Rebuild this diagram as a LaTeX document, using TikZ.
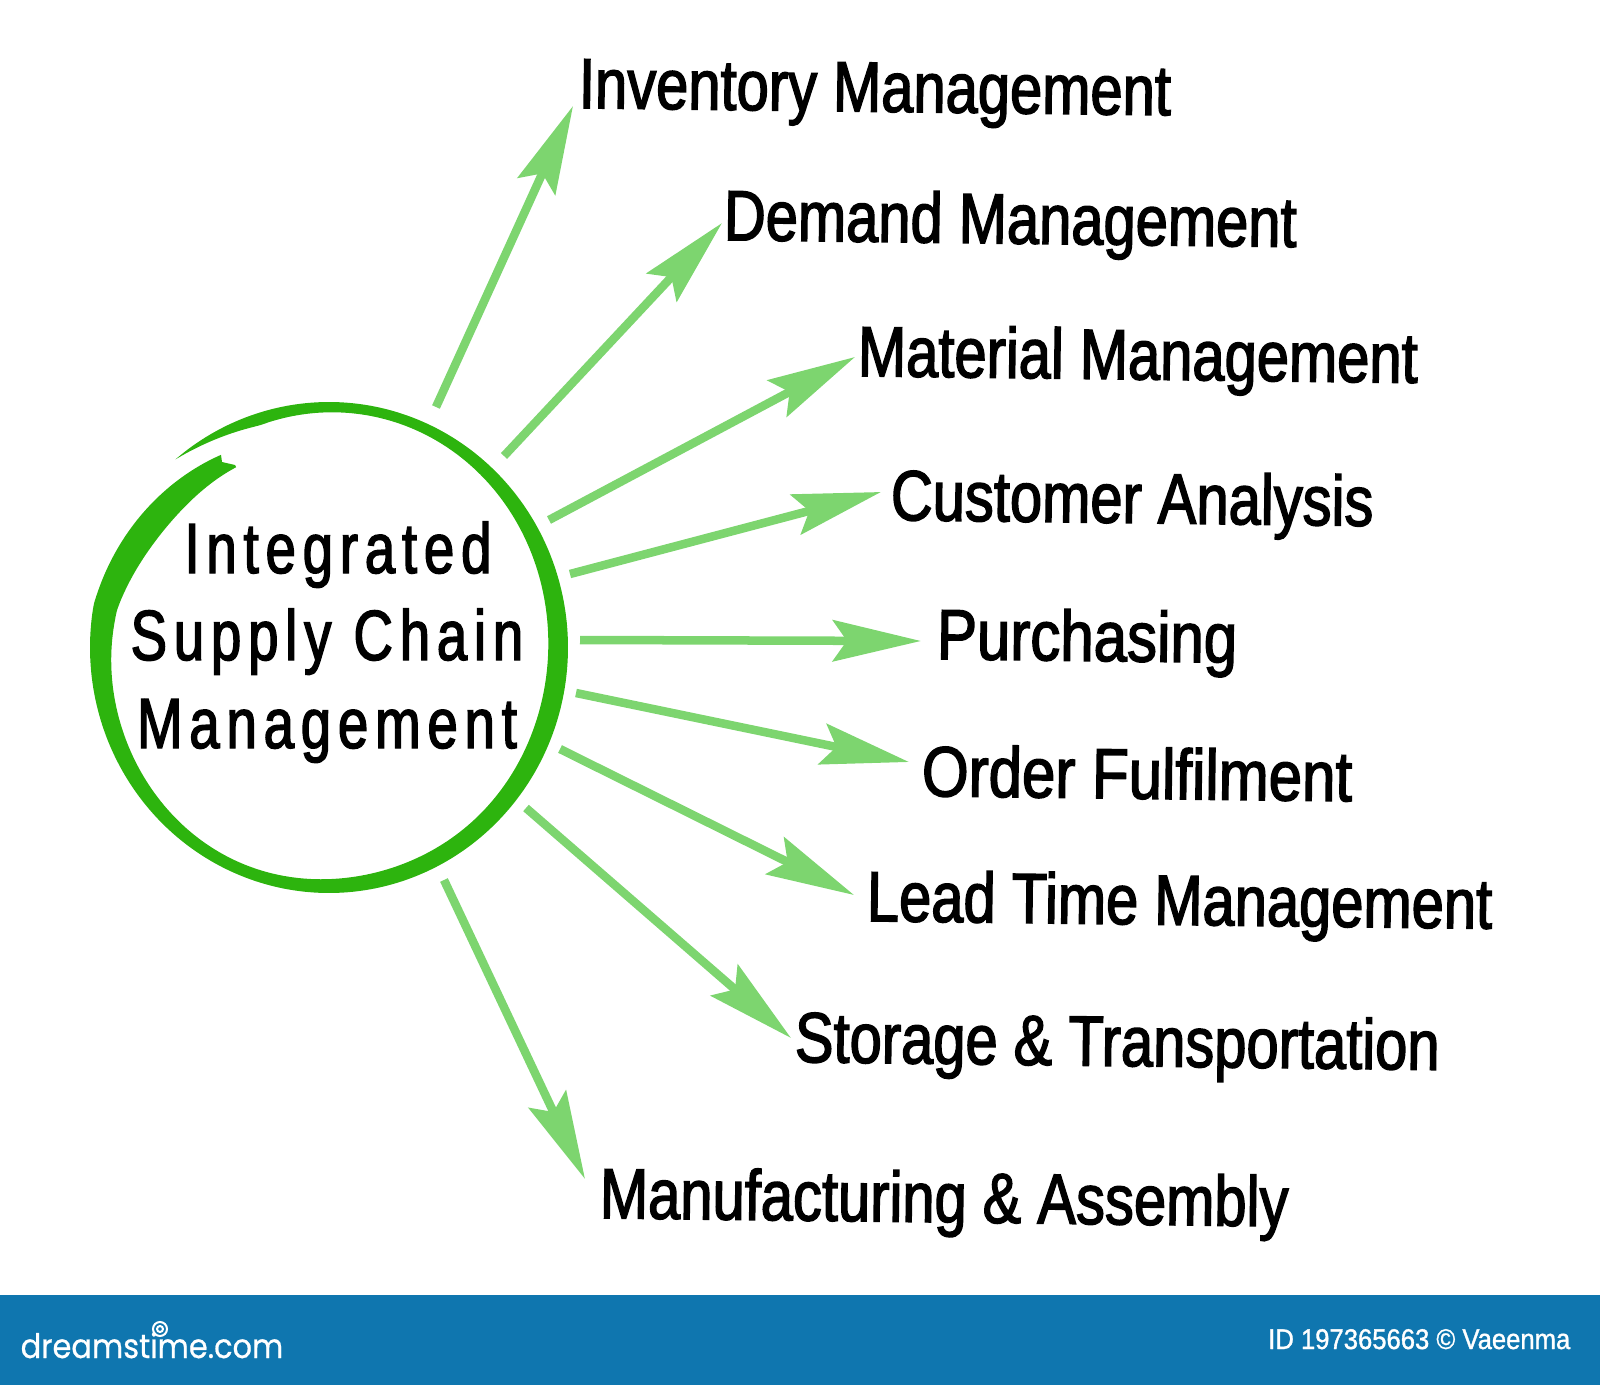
\documentclass[tikz,border=0pt]{standalone}
\usepackage{fontspec}
\usepackage{tikz}
\usetikzlibrary{arrows.meta}

\newfontfamily\itemfont[FakeStretch=0.815,FakeBold=2]{Liberation Sans}
\newfontfamily\itemwidefont[FakeStretch=0.845,FakeBold=2]{Liberation Sans}
\newfontfamily\hubfont[FakeStretch=0.77,FakeBold=2,LetterSpace=9.5]{Liberation Sans}
\newfontfamily\logofont[FakeStretch=0.9,FakeBold=0.6]{Poppins}
\newfontfamily\creditfont[FakeStretch=0.9,FakeBold=1.2]{Liberation Sans}

\definecolor{ringgreen}{HTML}{2DB40E}
\definecolor{spokegreen}{HTML}{7DD56F}
\definecolor{bannerblue}{HTML}{0F76AF}

\tikzset{
    spoke/.style={draw=spokegreen, line width=0.85mm, -{Stealth[length=8.8mm,width=4.1mm,inset=1.4mm]}},
    itemlabel/.style={anchor=base west, inner sep=0pt, rotate=-0.7, font=\itemfont\fontsize{20.2}{24}\selectfont},
    itemwide/.style={itemlabel, font=\itemwidefont\fontsize{20.2}{24}\selectfont},
    hublabel/.style={anchor=base, inner sep=0pt, font=\hubfont\fontsize{20.2}{24}\selectfont}
}

\begin{document}
\begin{tikzpicture}[x=0.01cm,y=-0.01cm,
    declare function={
        ringshrink(\t)=0.46*max(0,\t-550);
        ringbump(\t,\c,\s)=exp(-((\t-\c)/\s)*((\t-\c)/\s));
        ringwidth(\t)=(15+5*cos(2*(\t-370))+4*ringbump(\t,440,30)+9*ringbump(\t,575,28))*min(1,(\t-230)/22);
    }]
    \useasboundingbox (0,0) rectangle (1600,1385);

    % ring
    \fill [ringgreen] plot [domain=230:600,samples=150,smooth] ({329+(239-ringshrink(\x))*cos(\x)},{647.5+(245.5-ringshrink(\x))*sin(\x)})
        -- (222,462) -- (235,465)
        -- plot [domain=602:230,samples=150,smooth] ({329+(239-ringshrink(\x)-ringwidth(\x))*cos(\x)},{647.5+(245.5-ringshrink(\x)-ringwidth(\x))*sin(\x)})
        -- cycle;

    \node [hublabel] (hubone) at (338,573) {Integrated};
    \node [hublabel] (hubtwo) at (327,660) {Supply Chain};
    \node [hublabel] (hubthree) at (327,748) {Management};

    % labels
    \node [itemlabel] (inventory) at (578,108) {Inventory Management};
    \node [itemlabel] (demand) at (723,240) {Demand Management};
    \node [itemlabel] (material) at (857,376) {Material Management};
    \node [itemlabel] (customer) at (890,520) {Customer Analysis};
    \node [itemwide] (purchasing) at (936,659) {Purchasing};
    \node [itemwide] (order) at (921,796) {Order Fulfilment};
    \node [itemlabel] (lead) at (866,921) {Lead Time Management};
    \node [itemlabel] (storage) at (794,1062) {Storage \& Transportation};
    \node [itemlabel] (manufacturing) at (599,1218) {Manufacturing \& Assembly};

    % spokes
    \coordinate (inventorystart) at (436,407);
    \coordinate (inventorytip) at (573,106);
    \coordinate (demandstart) at (504,456);
    \coordinate (demandtip) at (722,223);
    \coordinate (materialstart) at (549,520);
    \coordinate (materialtip) at (855,357);
    \coordinate (customerstart) at (570,574);
    \coordinate (customertip) at (881,492);
    \coordinate (purchasingstart) at (580,640);
    \coordinate (purchasingtip) at (921,641);
    \coordinate (orderstart) at (576,693);
    \coordinate (ordertip) at (909,762);
    \coordinate (leadstart) at (560,749);
    \coordinate (leadtip) at (854,895);
    \coordinate (storagestart) at (526,808);
    \coordinate (storagetip) at (791,1038);
    \coordinate (manufacturingstart) at (444,880);
    \coordinate (manufacturingtip) at (585,1179);

    \draw [spoke] (inventorystart) -- (inventorytip);
    \draw [spoke] (demandstart) -- (demandtip);
    \draw [spoke] (materialstart) -- (materialtip);
    \draw [spoke] (customerstart) -- (customertip);
    \draw [spoke] (purchasingstart) -- (purchasingtip);
    \draw [spoke] (orderstart) -- (ordertip);
    \draw [spoke] (leadstart) -- (leadtip);
    \draw [spoke] (storagestart) -- (storagetip);
    \draw [spoke] (manufacturingstart) -- (manufacturingtip);

    % banner
    \fill [bannerblue] (0,1295) rectangle (1600,1385);
    \node [anchor=base west, inner sep=0pt, text=white, font=\logofont\fontsize{9.6}{12}\selectfont] (logo) at (20,1358) {dreamstime.com};
    \draw [white, line width=0.2mm] (160,1329) circle (7);
    \draw [white, line width=0.2mm] (160,1329) circle (3);
    \node [anchor=base east, inner sep=0pt, text=white, font=\creditfont\fontsize{8.1}{10}\selectfont] (credit) at (1571,1349) {ID 197365663 © Vaeenma};
\end{tikzpicture}
\end{document}
